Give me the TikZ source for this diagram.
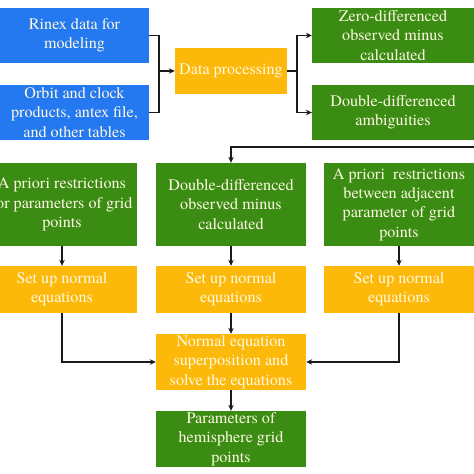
\documentclass[tikz,border=0pt]{standalone}
\usepackage{fontspec}
\newfontfamily\boxfont{texgyretermes}[Extension=.otf, UprightFont=*-regular]
\usetikzlibrary{arrows.meta}
\definecolor{bblue}{HTML}{2479F0}
\definecolor{bgreen}{HTML}{3A8D12}
\definecolor{borange}{HTML}{FDB90A}
\definecolor{btext}{HTML}{FFF8E4}
\definecolor{lcol}{HTML}{1A1A1A}
\tikzset{
  box/.style={draw=none, inner sep=0pt, align=center, text=btext,
    font=\boxfont\fontsize{16.2}{19.4}\selectfont},
  bluebox/.style={box, fill=bblue},
  greenbox/.style={box, fill=bgreen},
  orangebox/.style={box, fill=borange},
  conn/.style={draw=lcol, line width=1.2pt},
  arr/.style={conn, -{Stealth[length=6pt,width=5.5pt]}},
}
\begin{document}
\begin{tikzpicture}[x=1bp,y=-1bp]
\useasboundingbox (0,0) rectangle (474,474);
\clip (0,0) rectangle (474,474);
\fill[white] (0,0) rectangle (474,474);
% top row
\node[bluebox, minimum width=149bp, minimum height=55bp] (rinex) at (74.5,35.5) {Rinex data for\\modeling};
\node[bluebox, minimum width=149bp, minimum height=55bp] (orbit) at (74.5,112.5) {Orbit and clock\\products, antex file,\\and other tables};
\node[orangebox, minimum width=112bp, minimum height=46bp] (dp) at (231,71) {Data processing};
\node[greenbox, minimum width=162bp, minimum height=55bp] (zero) at (393,35.5) {Zero-differenced\\observed minus\\calculated};
\node[greenbox, minimum width=162bp, minimum height=55bp] (dda) at (393,112.5) {Double-differenced\\ambiguities};
% second row
\node[greenbox, minimum width=150bp, minimum height=83bp] (ap1) at (62,204.5) {A priori restrictions\\for parameters of grid\\points};
\node[greenbox, minimum width=150bp, minimum height=83bp] (ddomc) at (231,204.5) {Double-differenced\\observed minus\\calculated};
\node[greenbox, minimum width=150bp, minimum height=83bp] (ap2) at (399,204.5) {A priori\ \ restrictions\\between adjacent\\parameter of grid\\points};
% third row
\node[orangebox, minimum width=150bp, minimum height=47bp] (su1) at (62,289.5) {Set up normal\\equations};
\node[orangebox, minimum width=150bp, minimum height=47bp] (su2) at (231,289.5) {Set up normal\\equations};
\node[orangebox, minimum width=150bp, minimum height=47bp] (su3) at (399,289.5) {Set up normal\\equations};
% bottom
\node[orangebox, minimum width=150bp, minimum height=56bp] (ne) at (231,362) {Normal equation\\superposition and\\solve the equations};
\node[greenbox, minimum width=150bp, minimum height=56bp] (par) at (231,439) {Parameters of\\hemisphere grid\\points};
% connectors
\coordinate (j1) at (159,71);
\coordinate (j2) at (297,71);
\coordinate (top) at (480,147);
\draw[conn] (rinex.east) -| (j1) |- (orbit.east);
\draw[arr] (j1) -- (dp.west);
\draw[conn] (dp.east) -- (j2);
\draw[arr] (j2) |- (zero.west);
\draw[arr] (j2) |- (dda.west);
\draw[arr] (top) -| (ddomc.north);
\draw[arr] (ap1) -- (su1);
\draw[arr] (ddomc) -- (su2);
\draw[arr] (ap2.south -| su3.north) -- (su3.north);
\draw[arr] (su2) -- (ne);
\draw[arr] (su1.south) |- (ne.west);
\draw[arr] (su3.south) |- (ne.east);
\draw[arr] (ne) -- (par);
\end{tikzpicture}
\end{document}
